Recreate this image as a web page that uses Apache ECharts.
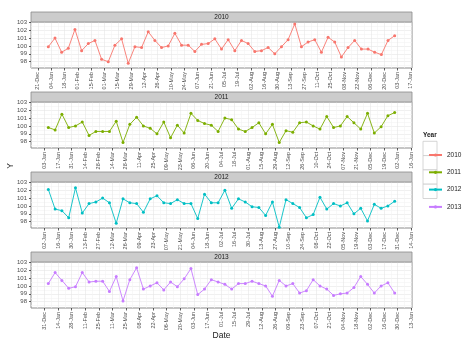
<!DOCTYPE html>
<html><head><meta charset="utf-8">
<script src="https://cdn.jsdelivr.net/npm/echarts@6/dist/echarts.min.js"></script>
<style>html,body{margin:0;padding:0;background:#fff}#c{width:474px;height:348px}</style>
</head><body><div id="c"></div>
<script>
// ---- data ----
const years = ['2010', '2011', '2012', '2013'];
const firstDates = ['2010-01-01', '2011-01-07', '2012-01-06', '2013-01-04'];
const values2010 = [99.9,101.0,99.2,99.7,102.1,99.4,100.3,100.7,98.3,98.0,
  100.1,100.9,97.8,99.9,99.8,101.8,100.7,99.8,100.0,101.6,
  100.1,100.1,99.3,100.2,100.3,100.9,99.6,100.8,99.4,100.7,
  100.3,99.3,99.4,99.8,99.0,99.9,100.8,102.8,99.9,100.5,
  100.8,99.2,101.1,100.5,98.6,99.8,100.7,99.6,99.6,99.2,
  98.9,100.7,101.3];
const values2011 = [99.8,99.5,101.5,99.8,100.0,100.5,98.8,99.3,99.3,99.3,
  100.6,97.9,100.2,101.1,100.0,99.7,99.0,100.5,98.5,100.1,
  99.1,101.6,100.7,100.3,100.1,99.3,101.0,100.8,99.6,99.3,
  99.8,100.4,99.0,100.2,97.9,99.4,99.2,100.4,100.5,100.0,
  99.6,101.2,99.8,100.0,101.2,100.4,99.6,101.6,99.1,99.9,
  101.3,101.7];
const values2012 = [102.1,99.6,99.4,98.5,102.3,99.1,100.3,100.5,101.0,100.4,
  97.8,100.9,100.4,100.3,99.2,100.9,101.3,100.4,100.3,100.8,
  100.3,100.3,98.4,101.5,100.4,100.4,102.0,99.7,100.9,100.5,
  99.9,99.8,98.8,100.5,97.3,100.8,100.3,99.8,98.5,98.9,
  101.1,99.6,100.3,100.0,100.4,99.0,99.7,98.1,100.2,99.7,
  100.0,100.6];
const values2013 = [100.3,101.7,100.7,99.7,99.9,101.7,100.5,100.6,100.6,99.3,
  101.2,98.1,100.8,102.3,99.6,100.0,100.4,99.5,100.5,99.9,
  100.9,102.2,98.9,99.6,100.8,100.5,100.2,99.6,100.3,100.3,
  100.6,100.3,100.0,98.7,100.7,100.0,100.3,99.1,99.4,100.8,
  100.0,99.6,98.8,99.0,99.1,99.8,101.2,100.2,99.1,100.0,
  100.4,99.1];
const ticks2010 = ['2009-12-21','2010-01-04','2010-01-18','2010-02-01','2010-02-15','2010-03-01','2010-03-15','2010-03-29','2010-04-12','2010-04-26','2010-05-10','2010-05-24','2010-06-07','2010-06-21','2010-07-05','2010-07-19','2010-08-02','2010-08-16','2010-08-30','2010-09-13','2010-09-27','2010-10-11','2010-10-25','2010-11-08','2010-11-22','2010-12-06','2010-12-20','2011-01-03','2011-01-17'];
const ticks2011 = ['2011-01-03','2011-01-17','2011-01-31','2011-02-14','2011-02-28','2011-03-14','2011-03-28','2011-04-11','2011-04-25','2011-05-09','2011-05-23','2011-06-06','2011-06-20','2011-07-04','2011-07-18','2011-08-01','2011-08-15','2011-08-29','2011-09-12','2011-09-26','2011-10-10','2011-10-24','2011-11-07','2011-11-21','2011-12-05','2011-12-19','2012-01-02','2012-01-16'];
const ticks2012 = ['2012-01-02','2012-01-16','2012-01-30','2012-02-13','2012-02-27','2012-03-12','2012-03-26','2012-04-09','2012-04-23','2012-05-07','2012-05-21','2012-06-04','2012-06-18','2012-07-02','2012-07-16','2012-07-30','2012-08-13','2012-08-27','2012-09-10','2012-09-24','2012-10-08','2012-10-22','2012-11-05','2012-11-19','2012-12-03','2012-12-17','2012-12-31','2013-01-14'];
const ticks2013 = ['2012-12-31','2013-01-14','2013-01-28','2013-02-11','2013-02-25','2013-03-11','2013-03-25','2013-04-08','2013-04-22','2013-05-06','2013-05-20','2013-06-03','2013-06-17','2013-07-01','2013-07-15','2013-07-29','2013-08-12','2013-08-26','2013-09-09','2013-09-23','2013-10-07','2013-10-21','2013-11-04','2013-11-18','2013-12-02','2013-12-16','2013-12-30','2014-01-13'];
const yTicks = [98, 99, 100, 101, 102, 103];
const yMinor = [97.5, 98.5, 99.5, 100.5, 101.5, 102.5];
const colors = ['#F8766D', '#7CAE00', '#00BFC4', '#C77CFF'];

// ---- helpers ----
const DAY = 86400000;
const MON = ['Jan','Feb','Mar','Apr','May','Jun','Jul','Aug','Sep','Oct','Nov','Dec'];
function dayNum(s){ const p = s.split('-').map(Number); return Date.UTC(p[0], p[1]-1, p[2]) / DAY; }
function fmt(v){ const d = new Date(Math.round(v) * DAY); return String(d.getUTCDate()).padStart(2,'0') + '-' + MON[d.getUTCMonth()]; }
const allValues = [values2010, values2011, values2012, values2013];
const allTicks = [ticks2010, ticks2011, ticks2012, ticks2013];

// ---- layout ----
const L = 31, W = 381, PT = 22, PH = 46, STEP = 80, SH = 10;
const FONT = '"Liberation Sans", Arial, sans-serif';

const grids = [], xAxes = [], yAxes = [], series = [], graphics = [];
years.forEach((yr, i) => {
  const vals = allValues[i];
  const start = dayNum(firstDates[i]);
  const xs = vals.map((_, k) => start + 7 * k);
  const span = xs[xs.length - 1] - xs[0];
  const xmin = xs[0] - 0.05 * span, xmax = xs[xs.length - 1] + 0.05 * span;
  const tk = allTicks[i].map(dayNum);
  const minor = [];
  [tk[0] - 7].concat(tk.map(t => t + 7)).forEach(t => { if (t > xmin && t < xmax) minor.push(t); });

  grids.push({ left: L, top: PT + STEP * i, width: W, height: PH, show: true,
    backgroundColor: '#fff', borderColor: '#8c8c8c', borderWidth: 1 });
  xAxes.push({ gridIndex: i, type: 'value', min: xmin, max: xmax,
    axisLine: { show: false },
    axisTick: { show: true, length: 2.5, customValues: tk, lineStyle: { color: '#333', width: 0.8 } },
    axisLabel: { customValues: tk, rotate: 90, fontSize: 5.5, color: '#4d4d4d', margin: 4, fontFamily: FONT, formatter: fmt },
    splitLine: { show: true, lineStyle: { color: '#e5e5e5', width: 0.6 } } });
  xAxes.push({ gridIndex: i, type: 'value', min: xmin, max: xmax,
    axisLine: { show: false }, axisTick: { show: false, customValues: minor },
    axisLabel: { show: false },
    splitLine: { show: true, lineStyle: { color: '#f4f4f4', width: 0.6 } } });
  yAxes.push({ gridIndex: i, type: 'value', min: 97.2, max: 103.04,
    axisLine: { show: false },
    axisTick: { show: true, length: 2, customValues: yTicks, lineStyle: { color: '#333', width: 0.8 } },
    axisLabel: { customValues: yTicks, fontSize: 6, color: '#4d4d4d', margin: 4, fontFamily: FONT },
    splitLine: { show: true, lineStyle: { color: '#e5e5e5', width: 0.6 } } });
  yAxes.push({ gridIndex: i, type: 'value', min: 97.2, max: 103.04,
    axisLine: { show: false }, axisTick: { show: false, customValues: yMinor },
    axisLabel: { show: false },
    splitLine: { show: true, lineStyle: { color: '#f4f4f4', width: 0.6 } } });
  series.push({ type: 'line', name: yr, xAxisIndex: 2 * i, yAxisIndex: 2 * i,
    data: xs.map((x, k) => [x, vals[k]]),
    symbol: 'circle', symbolSize: 3, showSymbol: true,
    lineStyle: { width: 0.9, color: colors[i] }, itemStyle: { color: colors[i] },
    emphasis: { disabled: true }, z: 3 });

  // facet strip
  graphics.push({ type: 'rect', shape: { x: L, y: 12 + STEP * i, width: W, height: SH },
    style: { fill: '#CCCCCC', stroke: '#8c8c8c', lineWidth: 0.8 }, z: 1 });
  graphics.push({ type: 'text', x: L + W / 2, y: 12 + STEP * i + SH / 2 + 0.5, z: 2,
    style: { text: yr, align: 'center', verticalAlign: 'middle', fontSize: 6.5, fill: '#1a1a1a', fontFamily: FONT } });
  // legend key boxes
  graphics.push({ type: 'rect', shape: { x: 423, y: 141.3 + 14.3 * i, width: 14, height: 14.3 },
    style: { fill: '#fff', stroke: '#cccccc', lineWidth: 0.8 }, z: 0 });
});

graphics.push({ type: 'text', x: 11, y: 166, rotation: Math.PI / 2,
  style: { text: 'Y', align: 'center', verticalAlign: 'middle', fontSize: 8.5, fill: '#1a1a1a', fontFamily: FONT } });
graphics.push({ type: 'text', x: 221.5, y: 336, 
  style: { text: 'Date', align: 'center', verticalAlign: 'middle', fontSize: 8.5, fill: '#1a1a1a', fontFamily: FONT } });
graphics.push({ type: 'text', x: 423, y: 135,
  style: { text: 'Year', align: 'left', verticalAlign: 'middle', fontSize: 6.5, fontWeight: 'bold', fill: '#1a1a1a', fontFamily: FONT } });

const chart = echarts.init(document.getElementById('c'), null, { renderer: 'canvas' });
chart.setOption({
  animation: false,
  backgroundColor: '#fff',
  grid: grids, xAxis: xAxes, yAxis: yAxes, series: series,
  legend: { data: years, orient: 'vertical', left: 423, top: 146.5, itemWidth: 13, itemHeight: 4, itemGap: 10.3,
    selectedMode: false, textStyle: { fontSize: 6.5, color: '#1a1a1a', lineHeight: 4, fontFamily: FONT } },
  graphic: { elements: graphics }
});
</script></body></html>
